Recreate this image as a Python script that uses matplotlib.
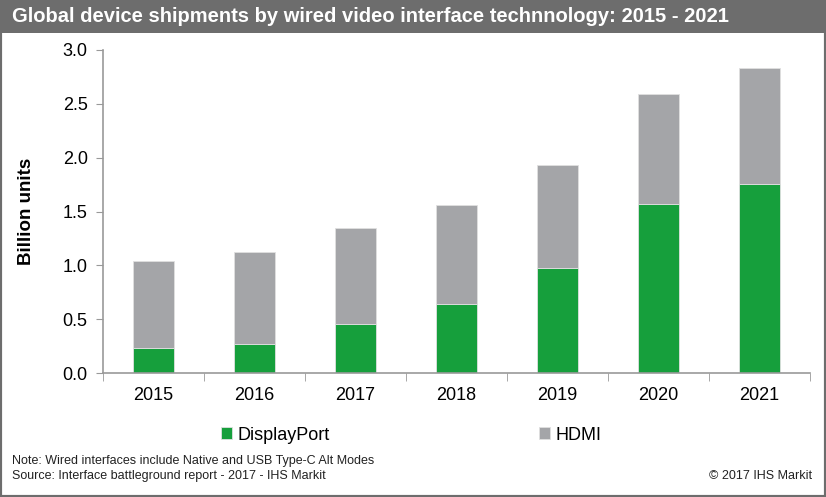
import matplotlib
matplotlib.use("Agg")
import matplotlib.pyplot as plt
from matplotlib.patches import Rectangle

plt.rcParams["font.family"] = ["Liberation Sans", "DejaVu Sans"]

years = ["2015", "2016", "2017", "2018", "2019", "2020", "2021"]
displayport = [0.23, 0.27, 0.455, 0.64, 0.975, 1.57, 1.755]
hdmi_total = [1.04, 1.12, 1.35, 1.56, 1.93, 2.59, 2.835]
hdmi = [t - d for t, d in zip(hdmi_total, displayport)]

GREEN = "#169f3c"
GREY = "#a4a5a8"

W, H = 826, 497
fig = plt.figure(figsize=(W / 100, H / 100), dpi=100)

# frame and title bar, kept behind the axes
fig.patches.append(Rectangle((0, 0), 1, 1, transform=fig.transFigure, zorder=-10,
                             facecolor="white", edgecolor="#6d6d6d", linewidth=3))
fig.patches.append(Rectangle((0, 1 - 33 / H), 1, 33 / H, transform=fig.transFigure, zorder=-9,
                             facecolor="#6d6d6d", edgecolor="none"))
fig.text(12 / W, 1 - 17 / H, "Global device shipments by wired video interface technnology: 2015 - 2021",
         color="white", fontsize=14.5, fontweight="bold", va="center", ha="left")

ax = fig.add_axes([103 / W, 1 - 373 / H, (810 - 103) / W, (373 - 50) / H])
ax.patch.set_alpha(0)
x = range(len(years))
ax.bar(x, displayport, width=0.4, color=GREEN, edgecolor="#e0e0e0", linewidth=0.6, label="DisplayPort")
ax.bar(x, hdmi, width=0.4, bottom=displayport, color=GREY, edgecolor="#e0e0e0", linewidth=0.6, label="HDMI")

ax.set_xlim(-0.5, len(years) - 0.5)
ax.set_ylim(0, 3.0)
ax.set_yticks([0, 0.5, 1.0, 1.5, 2.0, 2.5, 3.0])
ax.set_yticklabels(["0.0", "0.5", "1.0", "1.5", "2.0", "2.5", "3.0"])
ax.set_xticks(x)
ax.set_xticklabels(years)
ax.set_xticks([i - 0.5 for i in range(len(years) + 1)], minor=True)
ax.tick_params(axis="x", which="major", length=0, pad=10, labelsize=13)
ax.tick_params(axis="x", which="minor", length=6, color="#999999", direction="out")
ax.tick_params(axis="y", length=5, color="#999999", labelsize=13, pad=6)
for s in ["top", "right"]:
    ax.spines[s].set_visible(False)
for s in ["left", "bottom"]:
    ax.spines[s].set_color("#999999")
    ax.spines[s].set_linewidth(1.2)
ax.set_ylabel("Billion units", fontsize=13.5, fontweight="bold", labelpad=20)

ax.legend(loc="center", bbox_to_anchor=(0.436, -0.192), ncol=2, frameon=False,
          fontsize=13, handlelength=0.6, handleheight=0.6, handletextpad=0.3,
          columnspacing=11.6)

fig.text(12 / W, 1 - 461 / H, "Note: Wired interfaces include Native and USB Type-C Alt Modes",
         fontsize=9, va="center", color="#222222")
fig.text(12 / W, 1 - 476 / H, "Source: Interface battleground report - 2017 - IHS Markit",
         fontsize=9, va="center", color="#222222")
fig.text(812 / W, 1 - 476 / H, "© 2017 IHS Markit",
         fontsize=9, va="center", ha="right", color="#222222")

fig.savefig("out.png", dpi=100)
